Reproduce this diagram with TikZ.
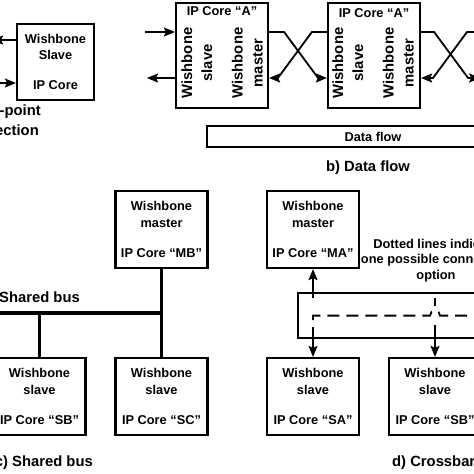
\documentclass[tikz,border=0pt]{standalone}
\usepackage{fontspec}
\setmainfont{Liberation Sans}
\usetikzlibrary{arrows.meta,calc}
\tikzset{
  wbbox/.style = {draw=black, line width=2.2pt, align=center, inner sep=0pt,
    font=\fontsize{12.8}{17}\selectfont\bfseries,
    minimum width=92pt, minimum height=77pt},% core box with text
  wbtall/.style = {draw=black, line width=2.2pt, inner sep=0pt,
    minimum width=92pt, minimum height=105pt},% core box, data flow
  rottxt/.style = {rotate=90, align=center, inner sep=0pt,
    font=\fontsize{14.8}{20}\selectfont\bfseries},
  plain/.style = {align=center, inner sep=0pt,
    font=\fontsize{12.8}{16}\selectfont\bfseries},
  caption/.style = {inner sep=0pt, font=\fontsize{14.8}{18}\selectfont\bfseries},
  conn/.style = {line width=1.8pt},
  arr/.style = {conn, -{Stealth[length=11pt,width=9pt,inset=2pt]}},
  bus/.style = {line width=4pt},
  dotline/.style = {conn, dash pattern=on 12pt off 7pt}
}

\begin{document}
\begin{tikzpicture}[x=1pt,y=-1pt]
  \useasboundingbox (0,0) rectangle (474,474);
  % a) point to point
  \node [wbbox, minimum width=77pt, minimum height=76pt,
    font=\fontsize{12.8}{16}\selectfont\bfseries] (pa) at (55.5,62)
    {Wishbone\\Slave\\[14pt]IP Core};
  \coordinate (aout) at (-8,40);
  \coordinate (ain) at (-20,83);
  \draw [arr] (pa.west |- aout) -- (aout);
  \draw [arr] (ain) -- (pa.west |- ain);
  \node [caption, anchor=east] (capa1) at (41,112) {a) Point-to-point};
  \node [caption, anchor=east] (capa2) at (39,130) {connection};

  % b) data flow
  \node [wbtall] (b1) at (222,55.5) {};
  \node [wbtall] (b2) at (374,55.5) {};
  \node [plain, anchor=north] (b1t) at ($(b1.north)+(0,4.5)$) {IP Core “A”};
  \node [plain, anchor=north] (b2t) at ($(b2.north)+(0,6)$) {IP Core “A”};
  \node [rottxt] (b1s) at ($(b1.west)+(22,7.5)$) {Wishbone\\slave};
  \node [rottxt] (b1m) at ($(b1.west)+(72.5,7.5)$) {Wishbone\\master};
  \node [rottxt] (b2s) at ($(b2.west)+(21,7.5)$) {Wishbone\\slave};
  \node [rottxt] (b2m) at ($(b2.west)+(71.5,7.5)$) {Wishbone\\master};
  \coordinate (bin) at (145,32);
  \coordinate (bout) at (147,78);
  \coordinate (bnext) at (480,32);
  \draw [arr] (bin) -- (b1.west |- bin);
  \draw [arr] (b1.west |- bout) -- (bout);
  \draw [arr] (b1.east |- bin) -- ++(15,0) -- ++(34,46) -- (b2.west |- bout);
  \draw [arr] (b2.west |- bin) -- ++(-15,0) -- ++(-34,46) -- (b1.east |- bout);
  \draw [arr] (b2.east |- bin) -- ++(13,0) -- ++(34,46) -- ++(12,0);
  \draw [arr] (bnext) -- ++(-13,0) -- ++(-34,46) -- (b2.east |- bout);
  \node [plain, draw, line width=2pt, minimum width=332pt, minimum height=21pt]
    (flow) at (373,136.5) {Data flow};
  \node [caption] (capb) at (368,168) {b) Data flow};

  % c) shared bus
  \node [wbbox] (mb) at (161.5,229.5) {Wishbone\\master\\[13pt]IP Core “MB”};
  \node [wbbox] (sbc) at (39.5,396.5) {Wishbone\\slave\\[13pt]IP Core “SB”};
  \node [wbbox] (sc) at (161.5,396.5) {Wishbone\\slave\\[13pt]IP Core “SC”};
  \coordinate (busl) at (-5,313);
  \draw [bus] (busl) -- (busl -| mb.south);
  \draw [line width=3.5pt] (mb.south) -- (sc.north);
  \draw [line width=3.5pt] (sbc.north) -- (sbc.north |- busl);
  \node [caption, anchor=west] (busname) at (-1,297) {Shared bus};
  \node [caption, anchor=east] (capc) at (93,463) {c) Shared bus};

  % d) crossbar
  \node [wbbox] (ma) at (313,229.5) {Wishbone\\master\\[13pt]IP Core “MA”};
  \node [wbbox] (sa) at (313,396.5) {Wishbone\\slave\\[13pt]IP Core “SA”};
  \node [wbbox] (sbd) at (435,396.5) {Wishbone\\slave\\[13pt]IP Core “SB”};
  \node [draw, line width=2.2pt, anchor=north west, inner sep=0pt,
    minimum width=200pt, minimum height=45pt] (xb) at (297,292) {};
  \node [plain, font=\fontsize{12.8}{15.5}\selectfont\bfseries] (note)
    at (436,260.5) {Dotted lines indicate\\one possible connection\\option};
  \coordinate (xbr) at (480,0);
  \draw [arr] ($(ma.south |- xb.north)+(0,6)$) -- (ma.south);
  \draw [arr] (sa.north |- xb.south) -- (sa.north);
  \draw [conn] ($(sbd.north |- xb.north)+(0,6)$) -- ++(0,8);
  \draw [arr] ($(sbd.north |- xb.south)+(0,-14)$) -- (sbd.north);
  \draw [dotline] (sa.north |- xb.south) -- (sa.north |- xb.center)
    -- ($(sbd.north |- xb.center)+(-5,0)$)
    arc [start angle=180, end angle=0, radius=5pt] -- (xbr |- xb.center);
  \node [caption, anchor=west] (capd) at (392,463) {d) Crossbar};
\end{tikzpicture}
\end{document}
